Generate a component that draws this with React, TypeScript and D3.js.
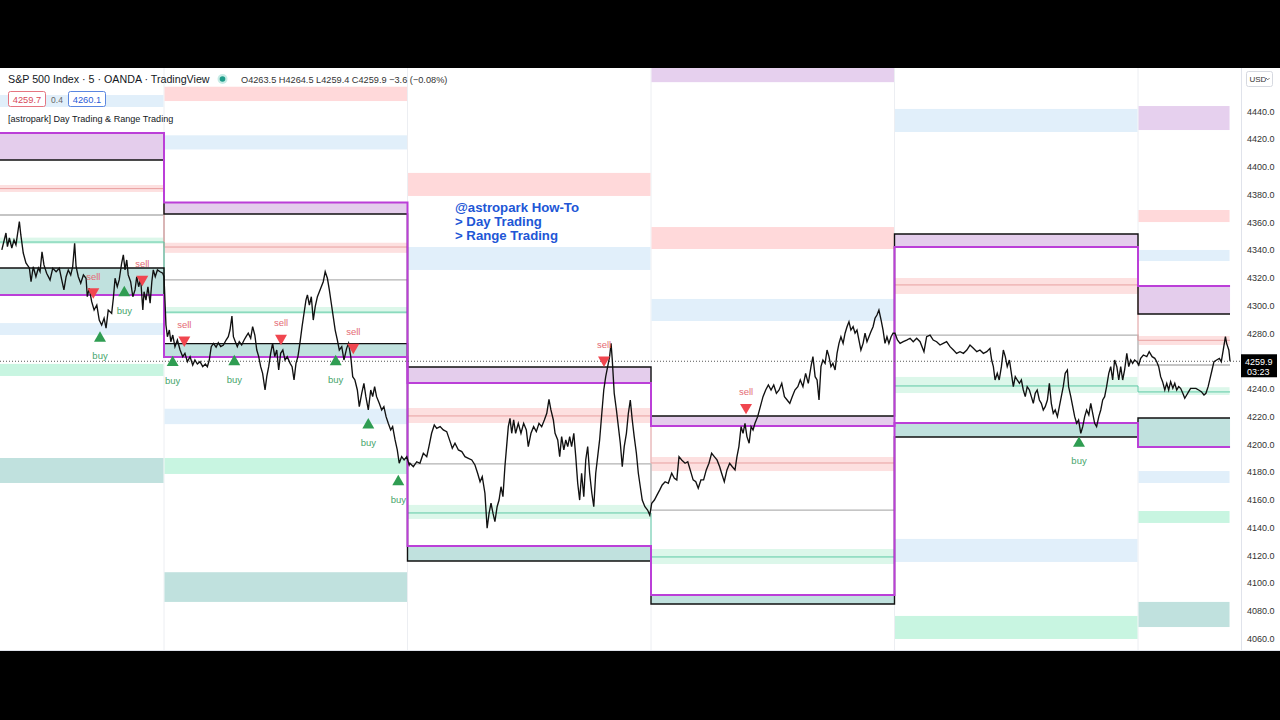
import React from "react";
import * as d3 from "d3";

// ---------- data ----------
const DAYS = [0, 1, 2, 3, 4, 5];
const LAST_END = 5.378; // last (current) session end in day units

const magentaTop = [4424.4, 4374.2, 4244.3, 4213.3, 4342.2, 4314.1];
const blackTop = [4404.9, 4366.0, 4255.8, 4220.5, 4351.6, 4294.0];
const blackBottom = [4327.1, 4272.6, 4116.0, 4085.0, 4205.3, 4219.0];
const magentaBottom = [4307.6, 4263.0, 4126.8, 4091.5, 4215.4, 4198.1];
const redLine = [4384.3, 4342.2, 4220.5, 4186.6, 4314.9, 4275.0];
const grayLine = [4365.3, 4318.5, 4185.9, 4152.7, 4278.8, 4257.2];
const greenLine = [4345.8, 4295.3, 4150.6, 4118.9, 4242.1, 4237.8];

type Band = [number, number] | null;
const purpleBandHigh: Band[] = [null, null, null, [4461, 4475], null, [4426.5, 4443.8]];
const pinkBandHigh: Band[] = [null, [4447.4, 4457.7], [4379.0, 4395.6], [4340.8, 4356.6], null, [4360.2, 4368.9]];
const blueBandHigh: Band[] = [[4443.1, 4451.7], [4412.5, 4422.7], [4325.7, 4342.2], [4288.9, 4304.8], [4425.1, 4441.7], [4332.1, 4340.1]];
const pinkBandMid: Band[] = [[4381.9, 4386.9], [4338.0, 4345.3], [4215.4, 4226.2], [4180.8, 4190.9], [4308.4, 4319.9], [4271.6, 4278.1]];
const greenBandMid: Band[] = [[4344.5, 4349.0], [4294.0, 4299.0], [4146.3, 4156.4], [4113.8, 4124.6], [4237.0, 4248.6], [4235.6, 4241.2]];
const blueBandLow: Band[] = [[4278.8, 4287.4], [4214.6, 4225.7], null, null, [4115.3, 4131.9], [4172.2, 4180.8]];
const mintBandLow: Band[] = [[4249.3, 4258.0], [4178.7, 4190.2], null, null, [4059.8, 4076.4], [4143.4, 4152.0]];
const tealBandLow: Band[] = [[4172.2, 4190.2], [4086.5, 4107.9], null, null, null, [4068.4, 4086.5]];

const price0: [number, number][] = [[0.334,4340.1],[0.351,4352.3],[0.357,4342.5],[0.365,4348.7],[0.375,4341.5],[0.384,4347.3],[0.392,4343.7],[0.406,4360.5],[0.412,4350.9],[0.422,4337.9],[0.433,4330.7],[0.447,4327.1],[0.454,4317.2],[0.463,4328.0],[0.474,4320.8],[0.484,4327.1],[0.491,4324.4],[0.499,4338.8],[0.507,4329.3],[0.518,4323.3],[0.532,4318.5],[0.543,4326.9],[0.557,4324.4],[0.570,4326.9],[0.580,4318.5],[0.589,4311.3],[0.598,4320.8],[0.607,4325.7],[0.617,4322.1],[0.625,4328.0],[0.633,4344.9],[0.639,4328.0],[0.648,4320.8],[0.658,4316.1],[0.669,4322.1],[0.680,4319.7],[0.685,4306.4],[0.693,4312.5],[0.703,4302.8],[0.713,4296.8],[0.724,4300.4],[0.734,4289.6],[0.744,4286.0],[0.754,4290.9],[0.762,4283.7],[0.771,4296.8],[0.785,4294.5],[0.792,4305.3],[0.799,4319.7],[0.808,4313.6],[0.816,4318.5],[0.826,4330.5],[0.833,4336.5],[0.840,4325.7],[0.847,4332.9],[0.853,4322.1],[0.863,4317.2],[0.872,4306.4],[0.881,4311.3],[0.888,4320.8],[0.896,4313.6],[0.904,4319.7],[0.913,4296.8],[0.918,4310.0],[0.926,4304.0],[0.934,4313.6],[0.943,4301.7],[0.950,4317.2],[0.956,4325.7],[0.964,4320.8],[0.973,4325.7],[0.984,4324.4],[0.995,4323.3],[1.000,4320.8]];
const price1: [number, number][] = [[1.008,4286.0],[1.014,4277.6],[1.022,4282.4],[1.028,4274.0],[1.036,4278.8],[1.045,4270.4],[1.055,4275.2],[1.066,4268.0],[1.077,4263.2],[1.086,4265.6],[1.096,4259.6],[1.107,4263.2],[1.118,4257.2],[1.127,4260.8],[1.137,4257.9],[1.148,4259.6],[1.159,4256.0],[1.170,4257.9],[1.178,4256.0],[1.186,4260.8],[1.194,4270.4],[1.203,4272.8],[1.214,4270.0],[1.223,4273.3],[1.233,4270.4],[1.244,4271.6],[1.255,4275.2],[1.264,4277.6],[1.271,4282.4],[1.279,4292.5],[1.285,4277.6],[1.293,4274.0],[1.301,4270.4],[1.309,4274.0],[1.319,4271.6],[1.329,4275.2],[1.337,4277.6],[1.346,4280.1],[1.356,4276.5],[1.364,4284.8],[1.373,4278.8],[1.381,4268.0],[1.389,4263.2],[1.397,4256.0],[1.405,4251.2],[1.415,4239.2],[1.422,4248.8],[1.430,4256.0],[1.438,4265.6],[1.446,4272.8],[1.455,4263.2],[1.463,4268.0],[1.471,4253.6],[1.479,4265.6],[1.488,4268.0],[1.497,4260.8],[1.506,4263.2],[1.518,4258.4],[1.526,4256.0],[1.534,4246.4],[1.542,4258.4],[1.550,4263.2],[1.559,4274.0],[1.567,4284.8],[1.575,4294.5],[1.583,4304.0],[1.589,4307.7],[1.597,4300.4],[1.605,4306.4],[1.613,4289.6],[1.621,4299.2],[1.630,4306.4],[1.638,4310.0],[1.646,4313.6],[1.654,4317.2],[1.662,4324.4],[1.671,4319.7],[1.679,4311.3],[1.687,4301.7],[1.695,4292.0],[1.703,4282.4],[1.712,4275.2],[1.720,4268.0],[1.730,4270.4],[1.739,4260.8],[1.750,4269.2],[1.758,4272.8],[1.767,4263.2],[1.775,4248.8],[1.784,4246.4],[1.794,4239.2],[1.802,4227.2],[1.812,4236.8],[1.821,4244.0],[1.829,4234.4],[1.839,4224.8],[1.849,4239.2],[1.857,4234.4],[1.865,4241.6],[1.873,4234.4],[1.884,4229.6],[1.894,4224.8],[1.903,4227.2],[1.912,4220.0],[1.921,4215.2],[1.931,4210.4],[1.939,4212.8],[1.949,4203.2],[1.958,4196.0],[1.966,4186.4],[1.976,4191.2],[1.986,4188.8],[1.997,4191.2]];
const price2: [number, number][] = [[2.007,4185.2],[2.010,4186.4],[2.024,4183.9],[2.038,4187.5],[2.051,4186.4],[2.065,4193.6],[2.079,4191.2],[2.088,4198.4],[2.099,4208.0],[2.110,4214.0],[2.120,4211.6],[2.134,4212.8],[2.147,4210.4],[2.161,4209.2],[2.175,4202.0],[2.184,4197.2],[2.195,4200.8],[2.209,4196.0],[2.223,4194.8],[2.236,4191.2],[2.250,4190.0],[2.264,4188.8],[2.277,4185.2],[2.288,4179.2],[2.298,4173.1],[2.307,4176.7],[2.318,4164.8],[2.327,4139.6],[2.335,4150.4],[2.343,4157.6],[2.351,4150.4],[2.359,4144.3],[2.368,4155.1],[2.376,4159.9],[2.384,4169.5],[2.392,4162.3],[2.400,4183.9],[2.407,4198.4],[2.414,4212.8],[2.421,4218.8],[2.428,4208.0],[2.436,4217.6],[2.444,4208.0],[2.455,4215.2],[2.466,4208.0],[2.477,4215.2],[2.488,4210.4],[2.496,4198.4],[2.507,4208.0],[2.518,4212.8],[2.529,4209.2],[2.540,4215.2],[2.551,4212.8],[2.562,4217.6],[2.572,4222.4],[2.581,4232.5],[2.589,4224.8],[2.599,4217.6],[2.606,4208.0],[2.617,4203.2],[2.625,4191.2],[2.633,4205.6],[2.642,4196.0],[2.650,4203.2],[2.658,4198.4],[2.666,4205.6],[2.674,4198.4],[2.683,4208.0],[2.691,4191.2],[2.699,4172.0],[2.707,4159.9],[2.715,4179.2],[2.724,4162.3],[2.732,4188.8],[2.740,4198.4],[2.748,4179.2],[2.757,4164.8],[2.765,4155.1],[2.773,4179.2],[2.781,4191.2],[2.789,4203.2],[2.798,4222.4],[2.806,4239.2],[2.814,4248.8],[2.822,4256.0],[2.830,4263.2],[2.836,4272.8],[2.841,4260.8],[2.849,4236.8],[2.858,4224.8],[2.866,4212.8],[2.874,4200.8],[2.882,4183.9],[2.890,4198.4],[2.899,4208.0],[2.907,4222.4],[2.915,4232.0],[2.923,4217.6],[2.931,4205.6],[2.940,4193.6],[2.948,4179.2],[2.956,4169.5],[2.964,4159.9],[2.975,4155.1],[2.986,4152.7],[2.995,4149.1]];
const price3: [number, number][] = [[3.003,4157.6],[3.014,4159.9],[3.025,4163.6],[3.036,4167.2],[3.046,4170.8],[3.058,4173.1],[3.071,4172.0],[3.085,4179.2],[3.096,4175.6],[3.106,4174.4],[3.115,4191.2],[3.126,4188.8],[3.140,4186.4],[3.151,4187.5],[3.161,4181.6],[3.173,4174.4],[3.184,4173.1],[3.194,4168.4],[3.205,4174.4],[3.216,4174.4],[3.227,4181.6],[3.238,4186.4],[3.249,4193.6],[3.260,4191.2],[3.271,4188.8],[3.282,4183.9],[3.290,4179.2],[3.301,4173.1],[3.312,4181.6],[3.323,4186.4],[3.334,4183.9],[3.345,4181.6],[3.353,4191.2],[3.361,4198.4],[3.370,4212.8],[3.378,4208.0],[3.386,4215.2],[3.394,4205.6],[3.403,4200.8],[3.411,4212.8],[3.419,4210.4],[3.427,4215.2],[3.438,4220.0],[3.449,4227.2],[3.460,4234.4],[3.471,4239.2],[3.482,4242.8],[3.493,4239.2],[3.504,4242.8],[3.515,4236.8],[3.526,4239.2],[3.537,4244.0],[3.548,4234.4],[3.559,4232.0],[3.570,4229.6],[3.580,4234.4],[3.591,4239.2],[3.603,4241.6],[3.613,4246.4],[3.624,4241.6],[3.635,4251.2],[3.646,4244.0],[3.657,4256.0],[3.665,4263.2],[3.674,4248.8],[3.682,4246.4],[3.690,4232.0],[3.698,4256.0],[3.706,4260.8],[3.715,4258.4],[3.723,4268.0],[3.731,4263.2],[3.739,4256.0],[3.747,4258.4],[3.756,4253.6],[3.764,4265.6],[3.772,4272.8],[3.780,4277.6],[3.789,4272.8],[3.797,4280.1],[3.805,4284.8],[3.813,4288.4],[3.821,4282.4],[3.830,4284.8],[3.838,4280.1],[3.846,4282.4],[3.854,4275.2],[3.862,4268.0],[3.871,4272.8],[3.879,4280.1],[3.887,4274.0],[3.895,4277.6],[3.903,4281.2],[3.912,4284.8],[3.920,4290.9],[3.928,4293.2],[3.936,4296.8],[3.945,4289.6],[3.953,4282.4],[3.961,4272.8],[3.969,4277.6],[3.977,4272.8],[3.986,4277.6],[3.994,4280.1]];
const price4: [number, number][] = [[4.002,4280.1],[4.012,4275.2],[4.023,4272.8],[4.036,4274.0],[4.050,4275.2],[4.064,4276.5],[4.077,4274.0],[4.091,4276.5],[4.105,4274.0],[4.121,4266.8],[4.132,4277.6],[4.146,4278.8],[4.159,4275.2],[4.173,4274.0],[4.187,4271.6],[4.200,4272.8],[4.214,4274.0],[4.228,4270.4],[4.242,4268.0],[4.255,4265.6],[4.269,4266.8],[4.283,4265.6],[4.297,4268.0],[4.310,4271.6],[4.324,4269.2],[4.338,4266.8],[4.351,4268.0],[4.365,4265.6],[4.379,4266.8],[4.392,4269.2],[4.399,4260.8],[4.406,4256.0],[4.413,4246.4],[4.422,4251.2],[4.430,4246.4],[4.439,4256.0],[4.447,4268.0],[4.455,4263.2],[4.463,4256.0],[4.472,4260.8],[4.480,4251.2],[4.488,4241.6],[4.496,4248.8],[4.504,4246.4],[4.513,4244.0],[4.521,4246.4],[4.529,4239.2],[4.537,4234.4],[4.545,4241.6],[4.554,4239.2],[4.562,4234.4],[4.570,4229.6],[4.578,4236.8],[4.586,4239.2],[4.595,4232.0],[4.603,4229.6],[4.611,4224.8],[4.619,4227.2],[4.628,4232.0],[4.636,4244.0],[4.644,4229.6],[4.652,4222.4],[4.660,4224.8],[4.669,4220.0],[4.677,4227.2],[4.685,4234.4],[4.693,4241.6],[4.701,4251.2],[4.710,4253.6],[4.715,4241.6],[4.724,4234.4],[4.732,4227.2],[4.740,4220.0],[4.748,4215.2],[4.756,4217.6],[4.765,4208.0],[4.773,4212.8],[4.781,4220.0],[4.789,4224.8],[4.798,4221.2],[4.806,4229.6],[4.814,4222.4],[4.822,4215.2],[4.830,4212.8],[4.839,4220.0],[4.847,4224.8],[4.855,4232.0],[4.863,4234.4],[4.871,4241.6],[4.880,4251.2],[4.888,4256.0],[4.896,4246.4],[4.904,4260.8],[4.913,4256.0],[4.921,4246.4],[4.929,4256.0],[4.937,4246.4],[4.945,4253.6],[4.954,4265.6],[4.962,4256.0],[4.970,4260.8],[4.978,4258.4],[4.986,4260.8],[4.995,4259.6]];
const price5: [number, number][] = [[5.003,4257.2],[5.011,4262.0],[5.022,4264.4],[5.036,4263.2],[5.046,4266.8],[5.058,4263.2],[5.069,4262.0],[5.077,4259.6],[5.085,4256.0],[5.093,4248.8],[5.101,4245.2],[5.110,4239.2],[5.118,4244.0],[5.126,4239.2],[5.134,4245.2],[5.143,4240.4],[5.151,4244.0],[5.159,4239.2],[5.167,4241.6],[5.175,4240.4],[5.184,4236.8],[5.192,4233.2],[5.200,4235.6],[5.208,4238.0],[5.216,4240.4],[5.227,4240.4],[5.238,4240.4],[5.249,4239.2],[5.260,4238.0],[5.271,4235.6],[5.279,4236.8],[5.288,4241.6],[5.296,4247.6],[5.304,4253.6],[5.312,4259.6],[5.323,4260.8],[5.334,4262.0],[5.342,4259.6],[5.350,4268.0],[5.359,4277.6],[5.364,4272.8],[5.373,4268.0],[5.378,4259.9]];

const buyT = [0.7372, 0.837, 1.0357, 1.2887, 1.7051, 1.839, 1.9622, 4.7577];
const buyP = [4276.5, 4309.3, 4258.9, 4259.6, 4259.6, 4214.0, 4173.1, 4200.8];
const sellT = [0.7097, 0.9109, 1.0834, 1.4805, 1.7774, 2.807, 3.3902];
const sellP = [4310.0, 4319.0, 4275.2, 4276.5, 4270.0, 4260.8, 4226.7];

const lastPrice = 4259.9;
const priceTicks = d3.range(4060, 4441, 20);
const titleText = "S&P 500 Index · 5 · OANDA · TradingView";
const ohlcText = "O4263.5 H4264.5 L4259.4 C4259.9 −3.6 (−0.08%)";
const bidText = "4259.7";
const spreadText = "0.4";
const askText = "4260.1";
const indicatorName = "[astropark] Day Trading & Range Trading";
const noteLines = ["@astropark How-To", "> Day Trading", "> Range Trading"];

// ---------- layout ----------
const W = 1280;
const H = 720;
const TOP = 68;
const BOTTOM = 651;
const AXIS_X = 1241;
const FONT = "'Liberation Sans', Arial, sans-serif";

export default function App() {
  const x = d3.scaleLinear().domain([0, 6]).range([-79.5, 1381.5]);
  const y = d3.scaleLinear().domain([4060, 4440]).range([638.7, 111.3]);

  const dayEnd = (d: number) => Math.min(d + 1, LAST_END);

  const stepPath = (vals: number[]) => {
    const pts: [number, number][] = DAYS.map((d) => [d, vals[d]] as [number, number]);
    pts.push([LAST_END, vals[vals.length - 1]]);
    return d3
      .line<[number, number]>()
      .x((p) => x(p[0]))
      .y((p) => y(p[1]))
      .curve(d3.curveStepAfter)(pts) as string;
  };

  const bandRects = (bands: Band[], fill: string, key: string) =>
    bands.map((b, d) =>
      b ? (
        <rect
          key={key + d}
          x={x(d) + 0.5}
          width={x(dayEnd(d)) - x(d) - 1}
          y={y(b[1])}
          height={y(b[0]) - y(b[1])}
          fill={fill}
        />
      ) : null
    );

  const pairRects = (a: number[], b: number[], fill: string, key: string) =>
    DAYS.map((d) => {
      const hi = Math.max(a[d], b[d]);
      const lo = Math.min(a[d], b[d]);
      return (
        <rect
          key={key + d}
          x={x(d)}
          width={x(dayEnd(d)) - x(d)}
          y={y(hi)}
          height={y(lo) - y(hi)}
          fill={fill}
        />
      );
    });

  const allPrice = [...price0, ...price1, ...price2, ...price3, ...price4, ...price5];
  const priceLine = d3
    .line<[number, number]>()
    .x((p) => x(p[0]))
    .y((p) => y(p[1]))(allPrice) as string;

  const tri = d3.symbol().type(d3.symbolTriangle).size(62)() as string;

  return (
    <svg
      width={W}
      height={H}
      style={{ position: "absolute", left: 0, top: 0, display: "block" }}
      fontFamily={FONT}
    >
      <defs>
        <clipPath id="plot">
          <rect x={0} y={TOP} width={AXIS_X} height={BOTTOM - TOP} />
        </clipPath>
      </defs>
      <rect x={0} y={0} width={W} height={H} fill="#000" />
      <rect x={0} y={TOP} width={W} height={BOTTOM - TOP} fill="#fff" />

      <g clipPath="url(#plot)">
        {DAYS.slice(1).map((d) => (
          <line key={"sep" + d} x1={x(d)} x2={x(d)} y1={TOP} y2={BOTTOM} stroke="#eceef2" strokeWidth={1} />
        ))}
        {bandRects(purpleBandHigh, "#e6d0ee", "pbh")}
        {bandRects(pinkBandHigh, "#ffd9da", "pkh")}
        {bandRects(blueBandHigh, "#e1effa", "bbh")}
        {bandRects(pinkBandMid, "#fde0e0", "pkm")}
        {bandRects(greenBandMid, "#dcf7ea", "gbm")}
        {bandRects(blueBandLow, "#e1effa", "bbl")}
        {bandRects(mintBandLow, "#c8f5e1", "mbl")}
        {bandRects(tealBandLow, "#c0e1de", "tbl")}
        {pairRects(magentaTop, blackTop, "#e4cdec", "pt")}
        {pairRects(magentaBottom, blackBottom, "#c0e1de", "tb")}

        <path d={stepPath(grayLine)} fill="none" stroke="#b3b3b3" strokeWidth={1.3} />
        <path d={stepPath(redLine)} fill="none" stroke="#e8a0a0" strokeWidth={1} />
        <path d={stepPath(greenLine)} fill="none" stroke="#5cc9a5" strokeWidth={1} />
        <path d={stepPath(blackTop)} fill="none" stroke="#111" strokeWidth={1.4} />
        <path d={stepPath(blackBottom)} fill="none" stroke="#111" strokeWidth={1.4} />
        <path d={stepPath(magentaTop)} fill="none" stroke="#bb3fd8" strokeWidth={2} />
        <path d={stepPath(magentaBottom)} fill="none" stroke="#bb3fd8" strokeWidth={2} />

        <line
          x1={0}
          x2={AXIS_X}
          y1={y(lastPrice)}
          y2={y(lastPrice)}
          stroke="#555"
          strokeWidth={1}
          strokeDasharray="1,2"
        />

        <path d={priceLine} fill="none" stroke="#111" strokeWidth={1.35} strokeLinejoin="miter" />

        {buyT.map((t, i) => (
          <g key={"buy" + i} transform={`translate(${x(t)},${y(buyP[i])})`}>
            <path d={tri} fill="#2f9d52" />
            <text y={21} textAnchor="middle" fontSize={9.5} fill="#47a56c">
              buy
            </text>
          </g>
        ))}
        {sellT.map((t, i) => (
          <g key={"sell" + i} transform={`translate(${x(t)},${y(sellP[i])})`}>
            <path d={tri} fill="#f0464f" transform="rotate(180)" />
            <text y={-12} textAnchor="middle" fontSize={9.5} fill="#e46a74">
              sell
            </text>
          </g>
        ))}

        {noteLines.map((s, i) => (
          <text
            key={"note" + i}
            x={455}
            y={212 + i * 14.2}
            fontSize={13.2}
            fontWeight="bold"
            fill="#2156d6"
          >
            {s}
          </text>
        ))}
      </g>

      {/* legend */}
      <text x={8} y={83} fontSize={10.7} fill="#131722">
        {titleText}
      </text>
      <circle cx={222.5} cy={79} r={5} fill="#c8ece6" />
      <circle cx={222.5} cy={79} r={2.8} fill="#1f9c89" />
      <text x={241} y={82.5} fontSize={9.2} fill="#333">
        {ohlcText}
      </text>
      <rect x={8.5} y={91.5} width={37} height={15} rx={2} fill="#fff" stroke="#e57580" />
      <text x={27} y={102.5} fontSize={9.3} fill="#d84a5a" textAnchor="middle">
        {bidText}
      </text>
      <text x={57} y={102.5} fontSize={8.5} fill="#666" textAnchor="middle">
        {spreadText}
      </text>
      <rect x={68.5} y={91.5} width={37} height={15} rx={2} fill="#fff" stroke="#5a86e0" />
      <text x={87} y={102.5} fontSize={9.3} fill="#2a5bd7" textAnchor="middle">
        {askText}
      </text>
      <text x={8} y={121.5} fontSize={9.1} fill="#131722">
        {indicatorName}
      </text>

      {/* price axis */}
      <rect x={AXIS_X} y={TOP} width={W - AXIS_X} height={BOTTOM - TOP} fill="#fff" />
      <line x1={AXIS_X + 0.5} x2={AXIS_X + 0.5} y1={TOP} y2={BOTTOM} stroke="#e0e3eb" />
      {priceTicks.map((p) => (
        <text key={"t" + p} x={1247} y={y(p) + 3.2} fontSize={9} fill="#333">
          {d3.format(".1f")(p)}
        </text>
      ))}
      <rect x={1246.5} y={71.5} width={26} height={15} rx={2} fill="#fff" stroke="#d6d9e0" />
      <text x={1249.5} y={82} fontSize={8} fill="#333">
        USD
      </text>
      <path d="M1266,78 l1.8,1.8 l1.8,-1.8" fill="none" stroke="#555" strokeWidth={0.8} />
      <rect x={AXIS_X} y={y(lastPrice) - 7} width={36} height={23} fill="#000" />
      <text x={1245} y={y(lastPrice) + 3.3} fontSize={9} fill="#fff">
        {d3.format(".1f")(lastPrice)}
      </text>
      <text x={1247} y={y(lastPrice) + 14} fontSize={9} fill="#fff">
        03:23
      </text>
      <line x1={0} x2={W} y1={BOTTOM - 0.5} y2={BOTTOM - 0.5} stroke="#e0e3eb" />
    </svg>
  );
}
